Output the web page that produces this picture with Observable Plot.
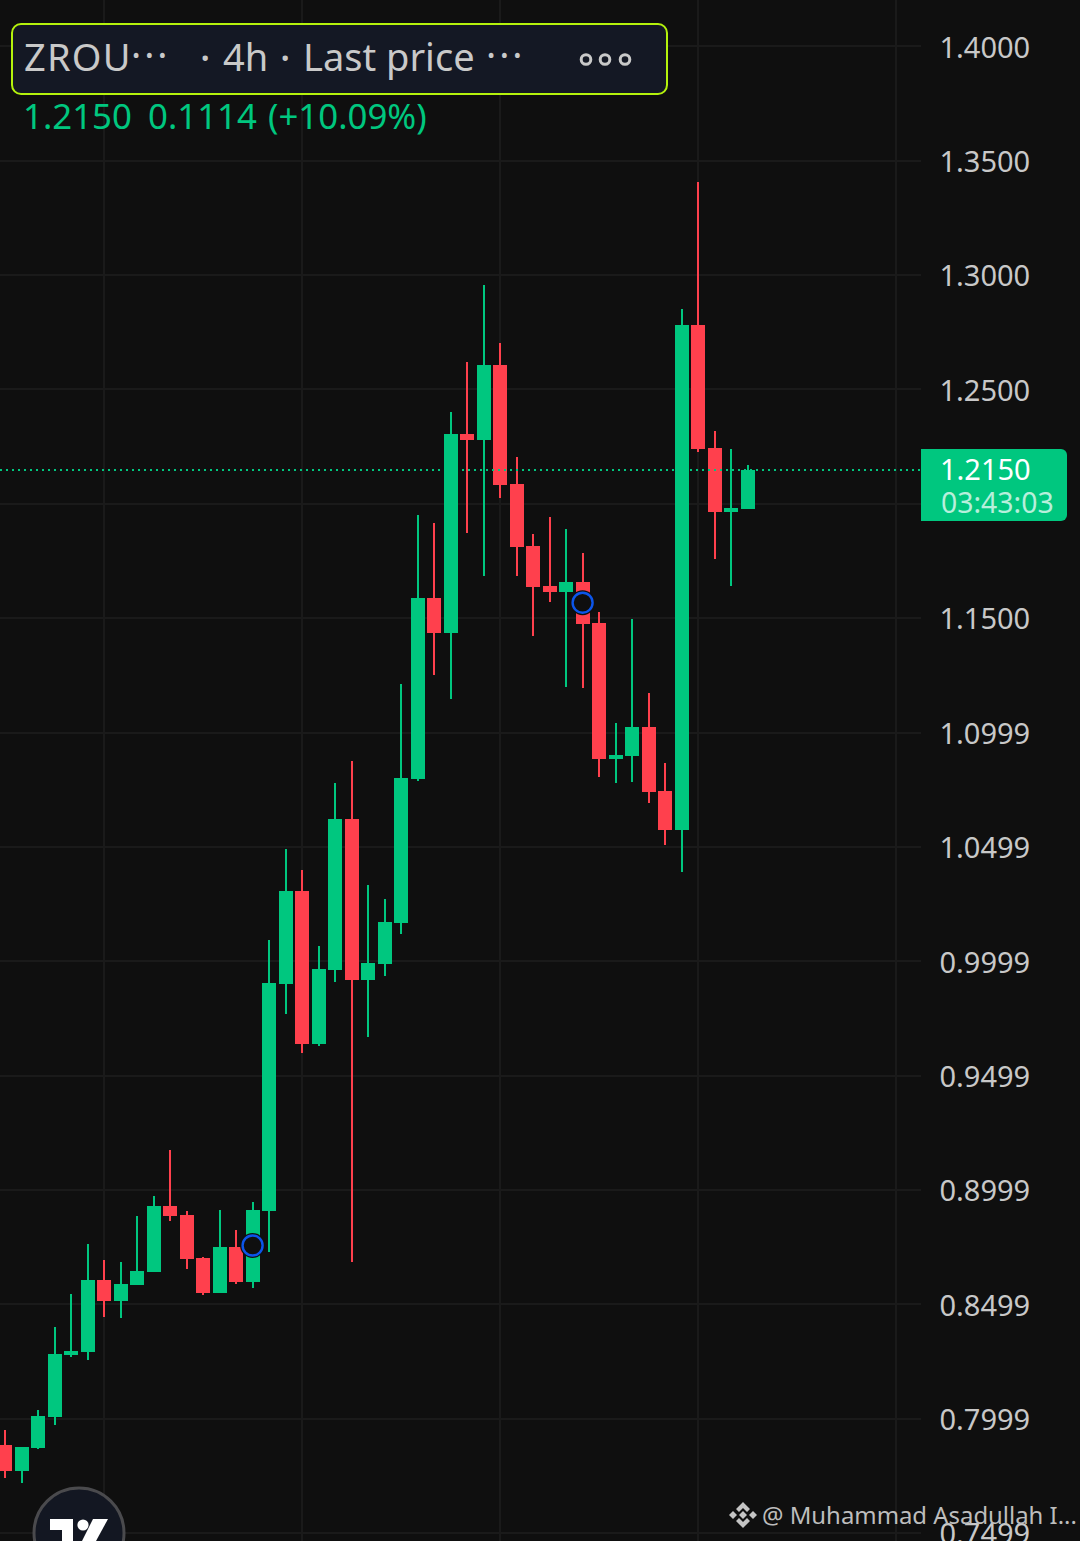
<!DOCTYPE html>
<html>
<head>
<meta charset="utf-8">
<script src="https://cdn.jsdelivr.net/npm/d3@7"></script>
<script src="https://cdn.jsdelivr.net/npm/@observablehq/plot@0.6"></script>
<style>
html,body{margin:0;padding:0;background:#0f0f0f;}
#wrap{position:relative;width:1080px;height:1541px;overflow:hidden;font-family:"Noto Sans",sans-serif;}
#wrap svg{display:block;}
.t{position:absolute;white-space:nowrap;line-height:1;}
#hdr{position:absolute;left:11px;top:23px;width:653px;height:68px;background:#141824;border:2px solid #b4f20c;border-radius:10px;}
.h{color:#c9c9c9;font-size:38px;}
.q{font-size:34.8px;color:#00c77f;top:99px;}
#tag{position:absolute;left:921px;top:449px;width:146px;height:72px;background:#00c77f;border-radius:0 6px 6px 0;}
</style>
</head>
<body>
<div id="wrap">
  <div id="chart"></div>
  <div id="hdr"></div>
  <div class="t h" style="left:24px;top:37px;letter-spacing:1.2px">ZROU</div>
  <div class="t h" style="left:131px;top:35px;letter-spacing:3px">···</div>
  <div class="t h" style="left:200px;top:38px;font-weight:500">·</div>
  <div class="t h" style="left:223px;top:37px">4h</div>
  <div class="t h" style="left:280px;top:38px;font-weight:500">·</div>
  <div class="t h" style="left:303px;top:37px">Last price</div>
  <div class="t h" style="left:486px;top:35px;letter-spacing:3px">···</div>
  <svg style="position:absolute;left:575px;top:48px" width="60" height="24" fill="none" stroke="#c9c9c9" stroke-width="3">
    <circle cx="11" cy="11.5" r="4.8"/><circle cx="30" cy="11.5" r="4.8"/><circle cx="50" cy="11.5" r="4.8"/>
  </svg>
  <div class="t q" style="left:23px">1.2150</div>
  <div class="t q" style="left:148px">0.1114</div>
  <div class="t q" style="left:268px">(+10.09%)</div>
  <div id="tag"></div>
  <div class="t" style="left:940px;top:454px;font-size:29px;color:#ffffff">1.2150</div>
  <div class="t" style="left:941px;top:488px;font-size:28.4px;color:rgba(255,255,255,.72)">03:43:03</div>
  <svg style="position:absolute;left:30px;top:1485px" width="100" height="56">
    <circle cx="49" cy="48" r="45" fill="#131722" stroke="#4a4a4d" stroke-width="3"/>
    <path d="M20 34H43V56H32V45H20Z" fill="#fff"/>
    <circle cx="53" cy="40" r="5.6" fill="#fff"/>
    <path d="M63 34H78L66 56H52Z" fill="#fff"/>
  </svg>
  <svg style="position:absolute;left:729px;top:1501px" width="28" height="28" fill="#c4c4c4">
    <path d="M14 1 L21 8 L18 11 L14 7 L10 11 L7 8Z"/>
    <path d="M14 27 L21 20 L18 17 L14 21 L10 17 L7 20Z"/>
    <path d="M4 10 L8 14 L4 18 L0 14Z"/>
    <path d="M24 10 L28 14 L24 18 L20 14Z"/>
    <path d="M14 10 L18 14 L14 18 L10 14Z"/>
  </svg>
  <div class="t" style="left:762px;top:1503px;font-size:23.9px;color:#bdbdbd">@ Muhammad Asadullah I...</div>
</div>
<script>
const opens = [0.7886,0.7772,0.7873,0.8009,0.8280,0.8293,0.8608,0.8516,0.8586,0.8643,0.8931,0.8892,0.8704,0.8551,0.8752,0.8599,0.8910,0.9902,1.0309,0.9640,0.9963,1.0624,0.9920,0.9989,1.0169,1.0798,1.1590,1.1437,1.2308,1.2281,1.2609,1.2088,1.1818,1.1642,1.1616,1.1660,1.1481,1.0886,1.0899,1.1026,1.0746,1.0575,1.2784,1.2246,1.1966,1.1979];
const closes = [0.7772,0.7878,0.8013,0.8284,0.8297,0.8608,0.8516,0.8590,0.8647,0.8931,0.8888,0.8700,0.8551,0.8752,0.8599,0.8914,0.9907,1.0309,0.9640,0.9968,1.0624,0.9920,0.9994,1.0173,1.0803,1.1590,1.1437,1.2308,1.2281,1.2609,1.2084,1.1813,1.1638,1.1616,1.1660,1.1476,1.0886,1.0903,1.1026,1.0742,1.0575,1.2784,1.2242,1.1966,1.1983,1.2150];
const highs = [0.7952,0.7878,0.8039,0.8402,0.8547,0.8765,0.8695,0.8687,0.8888,0.8975,0.9176,0.8910,0.8708,0.8914,0.8826,0.8949,1.0095,1.0493,1.0401,1.0068,1.0781,1.0877,1.0335,1.0274,1.1214,1.1953,1.1918,1.2404,1.2622,1.2959,1.2706,1.2207,1.1870,1.1944,1.1892,1.1787,1.1529,1.1043,1.1498,1.1175,1.0868,1.2854,1.3409,1.2320,1.2242,1.2171];
const lows = [0.7742,0.7720,0.7869,0.7974,0.8271,0.8258,0.8446,0.8442,0.8586,0.8643,0.8866,0.8656,0.8542,0.8551,0.8590,0.8573,0.8730,0.9771,0.9600,0.9631,0.9911,0.8687,0.9670,0.9937,1.0121,1.0790,1.1255,1.1148,1.1874,1.1686,1.2027,1.1686,1.1424,1.1572,1.1201,1.1196,1.0807,1.0781,1.0785,1.0694,1.0510,1.0392,1.2229,1.1761,1.1642,1.1979];
const priceTicks = [1.4,1.35,1.3,1.25,1.2,1.15,1.0999,1.0499,0.9999,0.9499,0.8999,0.8499,0.7999,0.7499];
const priceLabels = ["1.4000","1.3500","1.3000","1.2500","1.2000","1.1500","1.0999","1.0499","0.9999","0.9499","0.8999","0.8499","0.7999","0.7499"];
const timeGrid = [6,18,30,42,54];
const markerBars = [15,35];
const markerPrices = [0.8761,1.1572];
const lastPrice = 1.2150;

const UP = "#00c77f", DOWN = "#ff404d", GRID = "#1a1a1a", BG = "#0f0f0f";
const xDomain = [-0.27879, 56.691];
const gridEnd = 55.55;
const candles = opens.map((o,i)=>({i,o,c:closes[i],h:highs[i],l:lows[i],col:closes[i]>=o?UP:DOWN}));
const markers = markerBars.map((b,i)=>({b,p:markerPrices[i]}));
const labelOf = new Map(priceTicks.map((t,i)=>[t,priceLabels[i]]));

const chart = Plot.plot({
  width:1080, height:1541,
  marginLeft:0, marginRight:140, marginTop:0, marginBottom:0,
  style:{background:BG, fontFamily:'"Noto Sans",sans-serif', overflow:"hidden"},
  x:{type:"linear", domain:xDomain, range:[0,940], axis:null},
  y:{type:"linear", domain:[0.74664,1.42055], range:[1541,0], axis:null},
  marks:[
    Plot.ruleX(timeGrid,{stroke:GRID, strokeWidth:2, shapeRendering:"crispEdges"}),
    Plot.ruleY(priceTicks,{x1:xDomain[0], x2:gridEnd, stroke:GRID, strokeWidth:2, dy:-1, shapeRendering:"crispEdges"}),
    Plot.ruleX(candles,{x:"i", y1:"l", y2:"h", stroke:"col", strokeWidth:2, shapeRendering:"crispEdges"}),
    Plot.ruleX(candles,{x:"i", y1:"o", y2:"c", stroke:"col", strokeWidth:14, shapeRendering:"crispEdges"}),
    Plot.ruleY([lastPrice],{x1:xDomain[0], x2:gridEnd, stroke:UP, strokeWidth:2, strokeDasharray:"2,4", dy:-1, shapeRendering:"crispEdges"}),
    Plot.dot(markers,{x:"b", y:"p", r:12.5, fill:BG, stroke:"none"}),
    Plot.dot(markers,{x:"b", y:"p", r:10, fill:BG, stroke:"#0c55ea", strokeWidth:2.4}),
    Plot.axisY(priceTicks,{anchor:"right", tickSize:0, tickPadding:-1, dy:1, label:null, fontSize:29, fill:"#c8c8c8",
      tickFormat:d=>labelOf.get(d)})
  ]
});
document.getElementById("chart").appendChild(chart);
</script>
</body>
</html>
